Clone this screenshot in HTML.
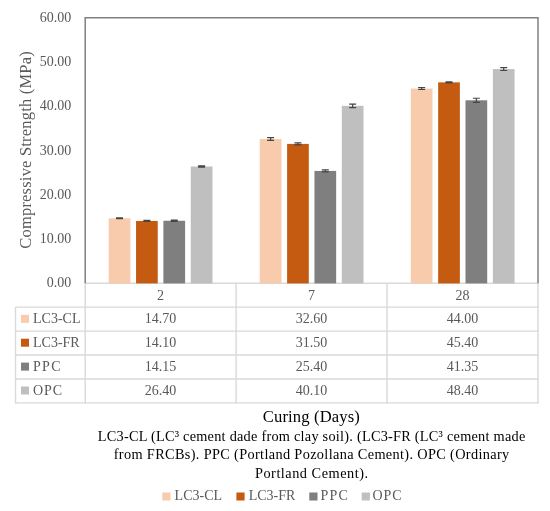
<!DOCTYPE html><html><head><meta charset="utf-8"><title>Compressive Strength</title><style>
html,body{margin:0;padding:0;background:#fff;}body{width:550px;height:511px;overflow:hidden;}
svg{display:block;}text{font-family:'Liberation Serif', 'DejaVu Serif', serif;}
</style></head><body>
<svg width="550" height="511" viewBox="0 0 550 511">
<rect x="0" y="0" width="550" height="511" fill="#fff"/>
<g stroke="#D9D9D9" stroke-width="1.4" fill="none">
<line x1="85" y1="283.2" x2="538" y2="283.2"/>
<line x1="15.5" y1="307.1" x2="538.6" y2="307.1"/>
<line x1="15.5" y1="331.1" x2="538.6" y2="331.1"/>
<line x1="15.5" y1="355.0" x2="538.6" y2="355.0"/>
<line x1="15.5" y1="379.0" x2="538.6" y2="379.0"/>
<line x1="15.5" y1="402.9" x2="538.6" y2="402.9"/>
<line x1="15.5" y1="307.1" x2="15.5" y2="403.5"/>
<line x1="85.2" y1="283" x2="85.2" y2="403.5"/>
<line x1="236.1" y1="283" x2="236.1" y2="403.5"/>
<line x1="387.0" y1="283" x2="387.0" y2="403.5"/>
<line x1="538.0" y1="283" x2="538.0" y2="403.5"/>
</g>
<rect x="108.70" y="218.30" width="21.70" height="65.10" fill="#F8CBAD"/>
<rect x="136.05" y="220.96" width="21.70" height="62.44" fill="#C55A11"/>
<rect x="163.40" y="220.74" width="21.70" height="62.66" fill="#7F7F7F"/>
<rect x="190.75" y="166.49" width="21.70" height="116.91" fill="#BFBFBF"/>
<rect x="259.75" y="139.04" width="21.70" height="144.36" fill="#F8CBAD"/>
<rect x="287.10" y="143.91" width="21.70" height="139.49" fill="#C55A11"/>
<rect x="314.45" y="170.92" width="21.70" height="112.48" fill="#7F7F7F"/>
<rect x="341.80" y="105.82" width="21.70" height="177.58" fill="#BFBFBF"/>
<rect x="410.80" y="88.55" width="21.70" height="194.85" fill="#F8CBAD"/>
<rect x="438.15" y="82.35" width="21.70" height="201.05" fill="#C55A11"/>
<rect x="465.50" y="100.29" width="21.70" height="183.11" fill="#7F7F7F"/>
<rect x="492.85" y="69.07" width="21.70" height="214.33" fill="#BFBFBF"/>
<g stroke="#454545" stroke-width="1.2" fill="none">
<path d="M119.55 217.85V218.75M116.05 217.85H123.05M116.05 218.75H123.05"/>
<path d="M146.90 220.46V221.46M143.40 220.46H150.40M143.40 221.46H150.40"/>
<path d="M174.25 220.04V221.44M170.75 220.04H177.75M170.75 221.44H177.75"/>
<path d="M201.60 165.94V167.04M198.10 165.94H205.10M198.10 167.04H205.10"/>
<path d="M270.60 137.69V140.39M267.10 137.69H274.10M267.10 140.39H274.10"/>
<path d="M297.95 142.91V144.91M294.45 142.91H301.45M294.45 144.91H301.45"/>
<path d="M325.30 169.87V171.97M321.80 169.87H328.80M321.80 171.97H328.80"/>
<path d="M352.65 104.07V107.57M349.15 104.07H356.15M349.15 107.57H356.15"/>
<path d="M421.65 87.60V89.50M418.15 87.60H425.15M418.15 89.50H425.15"/>
<path d="M449.00 81.75V82.95M445.50 81.75H452.50M445.50 82.95H452.50"/>
<path d="M476.35 98.24V102.34M472.85 98.24H479.85M472.85 102.34H479.85"/>
<path d="M503.70 67.62V70.52M500.20 67.62H507.20M500.20 70.52H507.20"/>
</g>
<path d="M85.2 283.2V17.7H538V283.2" stroke="#808080" stroke-width="1.5" fill="none"/>
<g fill="#595959" font-size="14" text-anchor="end">
<text x="71.2" y="287.40">0.00</text>
<text x="71.2" y="243.12">10.00</text>
<text x="71.2" y="198.83">20.00</text>
<text x="71.2" y="154.55">30.00</text>
<text x="71.2" y="110.27">40.00</text>
<text x="71.2" y="65.98">50.00</text>
<text x="71.2" y="21.70">60.00</text>
</g>
<text transform="translate(31,150) rotate(-90)" text-anchor="middle" font-size="16.5" textLength="197.5" lengthAdjust="spacing" fill="#595959">Compressive Strength (MPa)</text>
<g fill="#595959" font-size="14">
<text x="160.6" y="299.9" text-anchor="middle">2</text>
<text x="311.5" y="299.9" text-anchor="middle">7</text>
<text x="462.5" y="299.9" text-anchor="middle">28</text>
<rect x="21" y="314.8" width="8" height="8" fill="#F8CBAD" stroke="none"/>
<text x="33" y="323.3">LC3-CL</text>
<text x="160.6" y="323.3" text-anchor="middle">14.70</text>
<text x="311.5" y="323.3" text-anchor="middle">32.60</text>
<text x="462.5" y="323.3" text-anchor="middle">44.00</text>
<rect x="21" y="338.7" width="8" height="8" fill="#C55A11" stroke="none"/>
<text x="33" y="347.2">LC3-FR</text>
<text x="160.6" y="347.2" text-anchor="middle">14.10</text>
<text x="311.5" y="347.2" text-anchor="middle">31.50</text>
<text x="462.5" y="347.2" text-anchor="middle">45.40</text>
<rect x="21" y="362.6" width="8" height="8" fill="#7F7F7F" stroke="none"/>
<text x="33" y="371.1" textLength="27.5">PPC</text>
<text x="160.6" y="371.1" text-anchor="middle">14.15</text>
<text x="311.5" y="371.1" text-anchor="middle">25.40</text>
<text x="462.5" y="371.1" text-anchor="middle">41.35</text>
<rect x="21" y="386.5" width="8" height="8" fill="#BFBFBF" stroke="none"/>
<text x="33" y="395.0" textLength="29">OPC</text>
<text x="160.6" y="395.0" text-anchor="middle">26.40</text>
<text x="311.5" y="395.0" text-anchor="middle">40.10</text>
<text x="462.5" y="395.0" text-anchor="middle">48.40</text>
</g>
<text x="311.3" y="421.7" text-anchor="middle" font-size="16.6" textLength="97" fill="#000">Curing (Days)</text>
<g fill="#000" font-size="14.3" text-anchor="middle">
<text x="311.5" y="440.5" textLength="427.5">LC3-CL (LC³ cement dade from clay soil). (LC3-FR (LC³ cement made</text>
<text x="311.5" y="459.2" textLength="395.5">from FRCBs). PPC (Portland Pozollana Cement). OPC (Ordinary</text>
<text x="311.5" y="477.9" textLength="113.0">Portland Cement).</text>
</g>
<g fill="#595959" font-size="14">
<rect x="162.3" y="492.5" width="8.2" height="8" fill="#F8CBAD"/>
<text x="174.6" y="500.3">LC3-CL</text>
<rect x="236.4" y="492.5" width="8.2" height="8" fill="#C55A11"/>
<text x="248.7" y="500.3">LC3-FR</text>
<rect x="309.3" y="492.5" width="8.2" height="8" fill="#7F7F7F"/>
<text x="320.4" y="500.3" textLength="27.5">PPC</text>
<rect x="361.7" y="492.5" width="8.2" height="8" fill="#BFBFBF"/>
<text x="372.6" y="500.3" textLength="29">OPC</text>
</g>
</svg></body></html>
